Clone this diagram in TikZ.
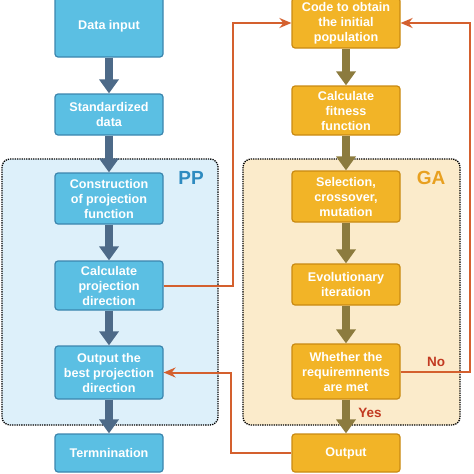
\documentclass[tikz,border=0pt]{standalone}
\usepackage{fontspec}
\setmainfont{Liberation Sans}
\usetikzlibrary{arrows.meta}
\definecolor{ppfill}{HTML}{5BBFE3}
\definecolor{ppedge}{HTML}{3C86AE}
\definecolor{ppback}{HTML}{DDF0FA}
\definecolor{pptext}{HTML}{2E8BC0}
\definecolor{ppflow}{HTML}{4D6A88}
\definecolor{gafill}{HTML}{F2B427}
\definecolor{gaedge}{HTML}{C98A12}
\definecolor{gaback}{HTML}{FBEBCB}
\definecolor{gatext}{HTML}{E8A020}
\definecolor{gaflow}{HTML}{8C7B3E}
\definecolor{linkred}{HTML}{D4602E}
\definecolor{answer}{HTML}{C23A22}

\begin{document}
\begin{tikzpicture}[x=1pt, y=-1pt,
  every node/.style={font=\fontsize{12.6}{15}\selectfont\bfseries},
  ppbox/.style={draw=ppedge, fill=ppfill, line width=1.2pt, rounded corners=3pt,
    text=white, align=center, minimum width=108pt, inner sep=1pt},
  gabox/.style={draw=gaedge, fill=gafill, line width=1.2pt, rounded corners=3pt,
    text=white, align=center, minimum width=108pt, inner sep=1pt},
  flow/.style={line width=8pt, -{Triangle[width=19pt,length=14pt]}},
  link/.style={draw=linkred, line width=2pt, -{Stealth[length=12pt,width=10pt]}},
  region/.style={densely dotted, line width=1.3pt, rounded corners=8pt}]
  \useasboundingbox (0,0) rectangle (474,474);

  % background regions
  \draw[region, fill=ppback] (2,159) rectangle (218,425);
  \draw[region, fill=gaback] (243,159) rectangle (460,425);
  \node[text=pptext, font=\fontsize{19}{19}\selectfont\bfseries] at (191,178) {PP};
  \node[text=gatext, font=\fontsize{19}{19}\selectfont\bfseries] at (431,178) {GA};

  % PP column
  \node[ppbox, minimum height=62pt] (input) at (109,26) {Data input};
  \node[ppbox, minimum height=41pt] (std) at (109,114.5) {Standardized\\data};
  \node[ppbox, minimum height=51pt] (cons) at (109,198.5) {Construction\\of projection\\function};
  \node[ppbox, minimum height=49pt] (calc) at (109,285.5) {Calculate\\projection\\direction};
  \node[ppbox, minimum height=53pt] (best) at (109,372.5) {Output the\\best projection\\direction};
  \node[ppbox, minimum height=38pt] (term) at (109,453) {Termnination};

  % GA column
  \node[gabox, minimum height=50pt] (init) at (346,23) {Code to obtain\\the initial\\population};
  \node[gabox, minimum height=49pt] (fit) at (346,110.5) {Calculate\\fitness\\function};
  \node[gabox, minimum height=51pt] (sel) at (346,196.5) {Selection,\\crossover,\\mutation};
  \node[gabox, minimum height=41pt] (evo) at (346,284.5) {Evolutionary\\iteration};
  \node[gabox, minimum height=55pt] (req) at (346,371.5) {Whether the\\requiremnents\\are met};
  \node[gabox, minimum height=38pt] (out) at (346,453) {Output};

  % main flow
  \foreach \a/\b in {input/std, std/cons, cons/calc, calc/best, best/term}
    \draw[flow, ppflow] (\a.south) -- (\b.north);
  \foreach \a/\b in {init/fit, fit/sel, sel/evo, evo/req, req/out}
    \draw[flow, gaflow] (\a.south) -- (\b.north);

  % feedback links
  \draw[link] (calc.east) -- ([xshift=69pt]calc.east) |- (init.west);
  \draw[link] (req.east) -- ([xshift=69pt]req.east) |- (init.east);
  \draw[link] (out.west) -- ([xshift=-60pt]out.west) |- (best.east);
  \node[text=answer, font=\fontsize{13.5}{14}\selectfont\bfseries] at (436,362) {No};
  \node[text=answer, font=\fontsize{13.5}{14}\selectfont\bfseries] at (370,413) {Yes};
\end{tikzpicture}
\end{document}
